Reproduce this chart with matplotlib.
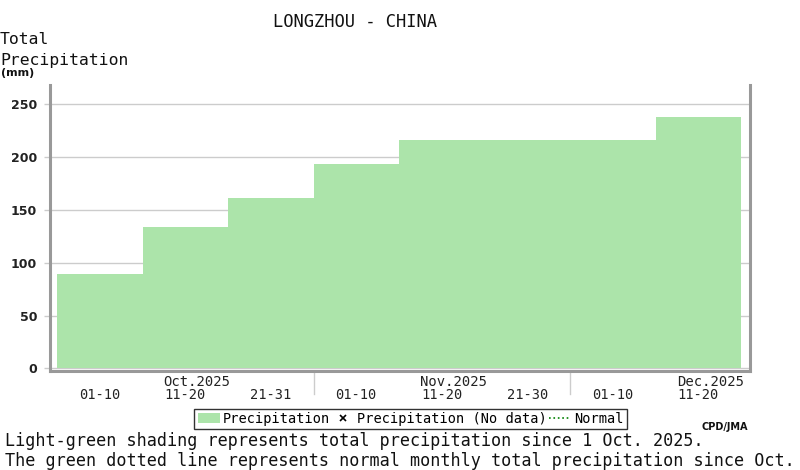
import matplotlib
matplotlib.use('Agg')
from matplotlib import pyplot as plt
from matplotlib.patches import Patch
from matplotlib.lines import Line2D
import matplotlib.transforms as mtransforms
import numpy as np

# data (cumulative total since 1 Oct)
dekads = ['01-10', '11-20', '21-31', '01-10', '11-20', '21-30', '01-10', '11-20']
months = ['Oct.2025', 'Nov.2025', 'Dec.2025']
dekads_per_month = [3, 3, 2]
precip = [89, 134, 161, 193, 216, 216, 216, 238]

mono = 'DejaVu Sans Mono'
green = '#ace4aa'
spine_gray = '#999999'
grid_gray = '#cccccc'

fig = plt.figure(figsize=(8, 4.7), dpi=100)
ax = fig.add_axes([50/800, 1-371/470, 700/800, (371-85)/470])

x = np.arange(len(precip))
ax.bar(x, precip, width=1.0, align='edge', color=green, linewidth=0, zorder=2)

ax.set_xlim(-7/85.5, len(precip) + 9/85.5)
ax.set_ylim(-2.4, 268)

# spines
ax.spines['top'].set_visible(False)
for s in ['left', 'right', 'bottom']:
    ax.spines[s].set_color(spine_gray)
    ax.spines[s].set_linewidth(2.2)

# y axis
ax.set_yticks([0, 50, 100, 150, 200, 250])
ax.tick_params(axis='y', direction='out', length=4.3, width=1, color=grid_gray,
               labelsize=9, labelcolor='#222222', pad=5)
for lab in ax.get_yticklabels():
    lab.set_fontweight('bold')
ax.yaxis.grid(True, color=grid_gray, linewidth=1)
ax.set_axisbelow(True)
ax.set_xticks([])

# x labels: dekads and months
trans = mtransforms.blended_transform_factory(ax.transData, fig.transFigure)
for i, d in enumerate(dekads):
    ax.text(i + 0.5, 1-395/470, d, transform=trans, ha='center', va='center',
            family=mono, fontsize=9.8, color='#222222')

start = 0
for m, n in zip(months, dekads_per_month):
    ax.text(start + 1.5 + 0.14, 1-382/470, m, transform=trans, ha='center', va='center',
            family=mono, fontsize=10, color='#222222')
    start += n
    if start < len(precip):
        ax.plot([start, start], [1-373/470, 1-394/470], transform=trans,
                color=grid_gray, lw=1, clip_on=False)

# titles and labels
fig.text(355/800, 1-22/470, 'LONGZHOU - CHINA', ha='center', va='center',
         family=mono, fontsize=12.3, color='#111111')
fig.text(0, 1-40/470, 'Total', ha='left', va='center', family=mono, fontsize=11.8,
         color='#111111')
fig.text(0, 1-60/470, 'Precipitation', ha='left', va='center', family=mono,
         fontsize=11.8, color='#111111')
fig.text(1/800, 1-73/470, '(mm)', ha='left', va='center', family='DejaVu Sans',
         fontsize=8, fontweight='bold', color='#111111')

# legend
handles = [Patch(facecolor=green, edgecolor='none'),
           Line2D([], [], marker='x', color='black', ls='none', markersize=4, mew=1.2),
           Line2D([], [], color='green', ls=':', lw=1.2)]
labels = ['Precipitation', 'Precipitation (No data)', 'Normal']
leg = fig.legend(handles, labels, loc='center', ncol=3,
                 bbox_to_anchor=(410.5/800, 1-419/470), bbox_transform=fig.transFigure,
                 prop={'family': mono, 'size': 9.8}, frameon=True, fancybox=False,
                 edgecolor='black', handlelength=1.6, handletextpad=0.2,
                 columnspacing=0.2, borderpad=0.25, borderaxespad=0)
leg.get_frame().set_linewidth(1)

fig.text(748/800, 1-427/470, 'CPD/JMA', ha='right', va='center', family='DejaVu Sans',
         fontsize=7, fontweight='bold', color='#111111')

fig.text(5/800, 1-441/470, 'Light-green shading represents total precipitation since 1 Oct. 2025.',
         ha='left', va='center', family=mono, fontsize=12.1, color='#111111')
fig.text(5/800, 1-461/470, 'The green dotted line represents normal monthly total precipitation since Oct.',
         ha='left', va='center', family=mono, fontsize=12.1, color='#111111')

fig.savefig('out.png', dpi=100)
